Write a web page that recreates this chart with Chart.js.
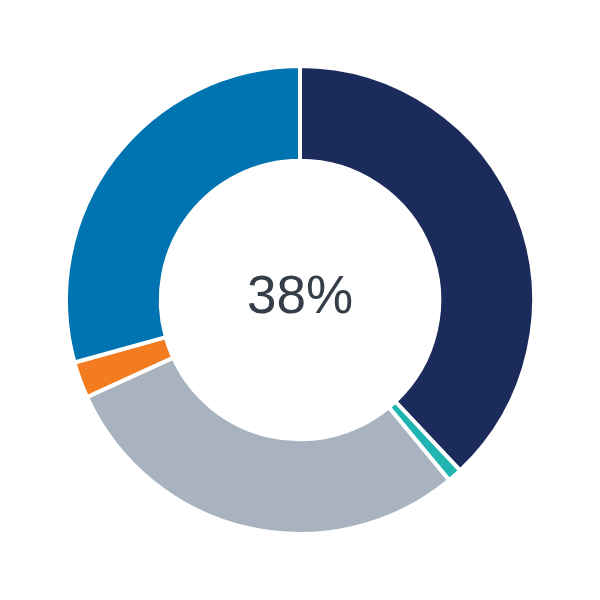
<!DOCTYPE html>
<html>
<head>
<meta charset="utf-8">
<script src="https://cdn.jsdelivr.net/npm/chart.js@4"></script>
<style>
html,body{margin:0;padding:0;background:#fff;}
#wrap{width:600px;height:600px;position:relative;}
</style>
</head>
<body>
<div id="wrap"><canvas id="c" width="600" height="600"></canvas></div>
<script>
const categories = ["Navy", "Teal", "Gray", "Orange", "Blue"];
const values = [38, 1, 29.2, 2.5, 29.3];
const colors = ["#1b2b5b", "#20b5b1", "#a9b3bf", "#f47c20", "#0074b1"];
const centerLabel = "38%";

const centerText = {
  id: 'centerText',
  afterDraw(chart) {
    const meta = chart.getDatasetMeta(0);
    if (!meta.data.length) return;
    const {x, y} = meta.data[0];
    const ctx = chart.ctx;
    ctx.save();
    ctx.font = '53px "Liberation Sans", Arial, sans-serif';
    ctx.fillStyle = '#343d48';
    ctx.textAlign = 'center';
    ctx.textBaseline = 'middle';
    ctx.fillText(centerLabel, x, y - 2);
    ctx.restore();
  }
};

new Chart(document.getElementById('c'), {
  type: 'doughnut',
  data: {
    labels: categories,
    datasets: [{
      data: values,
      backgroundColor: colors,
      borderColor: '#ffffff',
      borderWidth: 4,
      hoverOffset: 0
    }]
  },
  options: {
    responsive: false,
    animation: false,
    cutout: '59.5%',
    layout: { padding: 64 },
    plugins: { legend: { display: false }, tooltip: { enabled: false } }
  },
  plugins: [centerText]
});
</script>
</body>
</html>
